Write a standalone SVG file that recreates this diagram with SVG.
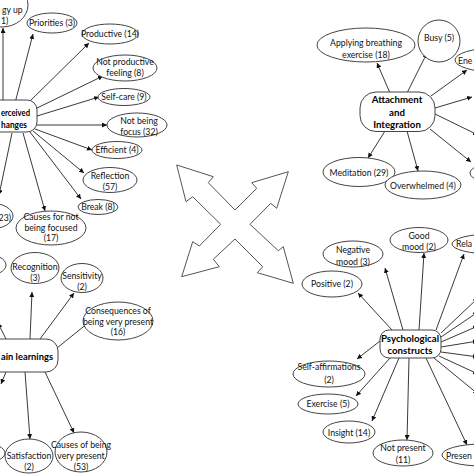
<svg xmlns="http://www.w3.org/2000/svg" width="474" height="474" viewBox="0 0 474 474">
<style>
.n{fill:#fff;stroke:#444;stroke-width:1}
.b{fill:#fff;stroke:#444;stroke-width:1}
.t{font-family:Lato,"Liberation Sans",sans-serif;font-size:8.7px;fill:#111;text-anchor:middle}
.h{font-family:Lato,"Liberation Sans",sans-serif;font-size:9.7px;font-weight:bold;fill:#000;text-anchor:middle}
.s{text-anchor:start}
.e{text-anchor:end}
.c line{stroke:#222;stroke-width:0.9;marker-end:url(#a)}
</style>
<defs>
<marker id="a" viewBox="0 0 6 6" refX="6" refY="3" markerWidth="5" markerHeight="5" markerUnits="userSpaceOnUse" orient="auto"><path d="M0,0 L6,3 L0,6 z" fill="#111"/></marker>
</defs>
<rect width="474" height="474" fill="#fff"/>

<g id="cross">
<polygon points="176.7,165 213.3,176.7 208.3,182.7 235,210 256.7,188.3 251.7,182.7 288.3,171.7 276.7,208.3 270.7,203.3 250,224.3 278.3,250.7 283.3,246.7 293.3,283.3 257.3,272.7 262.7,266.7 235,239 213.3,259.3 219.3,266.7 181.7,276.7 192.7,241.7 199.3,246 220.7,224.3 192.7,196.7 186,201.7" fill="#fff" stroke="#555" stroke-width="1"/>
</g>

<g class="c" id="connectors">
<!-- Perceived changes -->
<line x1="3" y1="100" x2="3" y2="28"/>
<line x1="15" y1="103" x2="33" y2="34"/>
<line x1="27" y1="104" x2="89" y2="43"/>
<line x1="35" y1="109" x2="103" y2="76"/>
<line x1="37" y1="116" x2="99" y2="97"/>
<line x1="37" y1="125" x2="107" y2="125"/>
<line x1="35" y1="129" x2="92" y2="150"/>
<line x1="33" y1="131" x2="84" y2="173"/>
<line x1="30" y1="132" x2="81" y2="199"/>
<line x1="23" y1="133" x2="45" y2="211"/>
<line x1="12" y1="133" x2="-1" y2="195"/>
<!-- Main learnings -->
<line x1="30" y1="339" x2="32" y2="292"/>
<line x1="40" y1="339" x2="74" y2="293"/>
<line x1="57" y1="348" x2="88" y2="323"/>
<line x1="6" y1="339" x2="-2" y2="323"/>
<line x1="6" y1="372" x2="1" y2="384"/>
<line x1="25" y1="372" x2="30" y2="439"/>
<line x1="45" y1="372" x2="74" y2="433"/>
<!-- Attachment and Integration -->
<line x1="390" y1="93" x2="377" y2="63"/>
<line x1="407" y1="93" x2="427" y2="53"/>
<line x1="431" y1="96" x2="467" y2="70"/>
<line x1="435" y1="108" x2="472" y2="97"/>
<line x1="435" y1="114" x2="478" y2="135"/>
<line x1="430" y1="129" x2="471" y2="162"/>
<line x1="385" y1="131" x2="368" y2="158"/>
<line x1="407" y1="131" x2="418" y2="171"/>
<!-- Psychological constructs -->
<line x1="392" y1="330" x2="358" y2="293"/>
<line x1="403" y1="330" x2="385" y2="268"/>
<line x1="419" y1="330" x2="424" y2="253"/>
<line x1="436" y1="330" x2="464" y2="254"/>
<line x1="441" y1="333" x2="478" y2="298"/>
<line x1="441" y1="337" x2="478" y2="312"/>
<line x1="441" y1="342" x2="478" y2="326"/>
<line x1="441" y1="347" x2="478" y2="341"/>
<line x1="441" y1="352" x2="478" y2="357"/>
<line x1="439" y1="356" x2="478" y2="374"/>
<line x1="434" y1="358" x2="478" y2="394"/>
<line x1="426" y1="358" x2="467" y2="445"/>
<line x1="409" y1="358" x2="407" y2="440"/>
<line x1="399" y1="358" x2="372" y2="421"/>
<line x1="390" y1="358" x2="356" y2="396"/>
<line x1="380" y1="341" x2="357" y2="359"/>
</g>

<!-- Perceived changes cluster -->
<g id="perceived"><rect class="b" x="-40" y="100" width="77" height="32" rx="10"/><text class="h s" x="1" y="116" textLength="29" lengthAdjust="spacingAndGlyphs">erceived</text><text class="h s" x="1" y="128" textLength="26" lengthAdjust="spacingAndGlyphs">hanges</text></g>
<g id="energy"><ellipse class="n" cx="2" cy="5" rx="26" ry="22"/><text class="t s" x="2" y="13">gy up</text><text class="t s" x="1" y="24">1)</text></g>
<g id="priorities"><ellipse class="n" cx="52" cy="23" rx="25" ry="10"/><text class="t" x="52" y="26">Priorities  (3)</text></g>
<g id="productive"><ellipse class="n" cx="110" cy="34" rx="28" ry="10"/><text class="t" x="110" y="37">Productive  (14)</text></g>
<g id="notproductive"><ellipse class="n" cx="125" cy="68" rx="32" ry="13"/><text class="t" x="125" y="65">Not productive</text><text class="t" x="125" y="76">feeling  (8)</text></g>
<g id="selfcare"><ellipse class="n" cx="124" cy="97" rx="26" ry="8.5"/><text class="t" x="124" y="100">Self-care  (9)</text></g>
<g id="notbeingfocus"><ellipse class="n" cx="137" cy="125" rx="30" ry="12"/><text class="t" x="139" y="124">Not being</text><text class="t" x="139" y="135">focus  (32)</text></g>
<g id="efficient"><ellipse class="n" cx="117" cy="150" rx="25" ry="8.5"/><text class="t" x="117" y="153">Efficient  (4)</text></g>
<g id="reflection"><ellipse class="n" cx="110" cy="180" rx="27" ry="12.5"/><text class="t" x="110" y="179">Reflection</text><text class="t" x="110" y="190">(57)</text></g>
<g id="break"><ellipse class="n" cx="98" cy="207" rx="20" ry="7.5"/><text class="t" x="98" y="210">Break  (8)</text></g>
<g id="causesnot"><ellipse class="n" cx="51" cy="228" rx="35" ry="17"/><text class="t" x="51" y="220">Causes for not</text><text class="t" x="51" y="231">being focused</text><text class="t" x="51" y="241">(17)</text></g>
<g id="n23"><ellipse class="n" cx="-10" cy="216" rx="23" ry="13"/><text class="t e" x="11" y="221">23)</text></g>

<!-- Main learnings cluster -->
<g id="mainlearnings"><rect class="b" x="-50" y="339" width="108" height="33" rx="12"/><text class="h s" x="1" y="360" textLength="52" lengthAdjust="spacingAndGlyphs">ain learnings</text></g>
<g id="leftpartial1"><ellipse class="n" cx="-15" cy="265" rx="21" ry="11"/></g>
<g id="recognition"><ellipse class="n" cx="35" cy="268" rx="24" ry="15.5"/><text class="t" x="35" y="270">Recognition</text><text class="t" x="35" y="281">(3)</text></g>
<g id="sensitivity"><ellipse class="n" cx="82" cy="278" rx="21" ry="14.5"/><text class="t" x="82" y="279">Sensitivity</text><text class="t" x="82" y="290">(2)</text></g>
<g id="consequences"><ellipse class="n" cx="118" cy="321" rx="35" ry="19"/><text class="t" x="118" y="314">Consequences of</text><text class="t" x="118" y="325">being very present</text><text class="t" x="118" y="335">(16)</text></g>
<g id="leftpartial2"><ellipse class="n" cx="-17" cy="453" rx="22" ry="10"/></g>
<g id="satisfaction"><ellipse class="n" cx="29" cy="456" rx="24" ry="17"/><text class="t" x="29" y="459">Satisfaction</text><text class="t" x="29" y="470">(2)</text></g>
<g id="causesbeing"><ellipse class="n" cx="81" cy="452" rx="26" ry="20"/><text class="t" x="81" y="448">Causes of being</text><text class="t" x="81" y="459">very present</text><text class="t" x="81" y="470">(53)</text></g>

<!-- Attachment cluster -->
<g id="attachment"><rect class="b" x="360" y="92" width="75" height="39.5" rx="16"/><text class="h" x="397" y="103">Attachment</text><text class="h" x="397" y="116">and</text><text class="h" x="397" y="128">Integration</text></g>
<g id="applying"><ellipse class="n" cx="366" cy="45" rx="49" ry="17"/><text class="t" x="366" y="46">Applying breathing</text><text class="t" x="366" y="58">exercise  (18)</text></g>
<g id="busy"><ellipse class="n" cx="439" cy="41" rx="21" ry="21"/><text class="t" x="439" y="41">Busy  (5)</text></g>
<g id="energy2"><ellipse class="n" cx="495" cy="60" rx="40" ry="12"/><text class="t s" x="458" y="64">Ene</text></g>
<g id="rightpartial"><ellipse class="n" cx="502" cy="173" rx="32" ry="11"/></g>
<g id="meditation"><ellipse class="n" cx="359" cy="172" rx="36" ry="14.5"/><text class="t" x="359" y="176">Meditation (29)</text></g>
<g id="overwhelmed"><ellipse class="n" cx="423" cy="185" rx="38" ry="14"/><text class="t" x="423" y="189">Overwhelmed (4)</text></g>

<!-- Psychological constructs cluster -->
<g id="psych"><rect class="b" x="380" y="330" width="61" height="28" rx="9"/><text class="h" x="410" y="342">Psychological</text><text class="h" x="410" y="354">constructs</text></g>
<g id="negative"><ellipse class="n" cx="353" cy="254" rx="30" ry="13"/><text class="t" x="353" y="253">Negative</text><text class="t" x="353" y="265">mood  (3)</text></g>
<g id="good"><ellipse class="n" cx="419" cy="240" rx="29" ry="12.5"/><text class="t" x="419" y="239">Good</text><text class="t" x="419" y="250">mood  (2)</text></g>
<g id="relax"><ellipse class="n" cx="492" cy="244" rx="40" ry="10"/><text class="t s" x="456" y="247">Rela</text></g>
<g id="positive"><ellipse class="n" cx="332" cy="284" rx="30" ry="13"/><text class="t" x="332" y="287">Positive (2)</text></g>
<g id="selfaff"><ellipse class="n" cx="329" cy="374" rx="36" ry="13"/><text class="t" x="329" y="370">Self-affirmations</text><text class="t" x="329" y="383">(2)</text></g>
<g id="exercise"><ellipse class="n" cx="328" cy="404" rx="30" ry="10"/><text class="t" x="328" y="407">Exercise (5)</text></g>
<g id="insight"><ellipse class="n" cx="349" cy="432" rx="26" ry="11"/><text class="t" x="349" y="436">Insight (14)</text></g>
<g id="notpresent"><ellipse class="n" cx="403" cy="453" rx="30" ry="13"/><text class="t" x="403" y="451">Not present</text><text class="t" x="403" y="463">(11)</text></g>
<g id="present"><ellipse class="n" cx="482" cy="455" rx="40" ry="11"/><text class="t s" x="446" y="459">Presen</text></g>
</svg>
